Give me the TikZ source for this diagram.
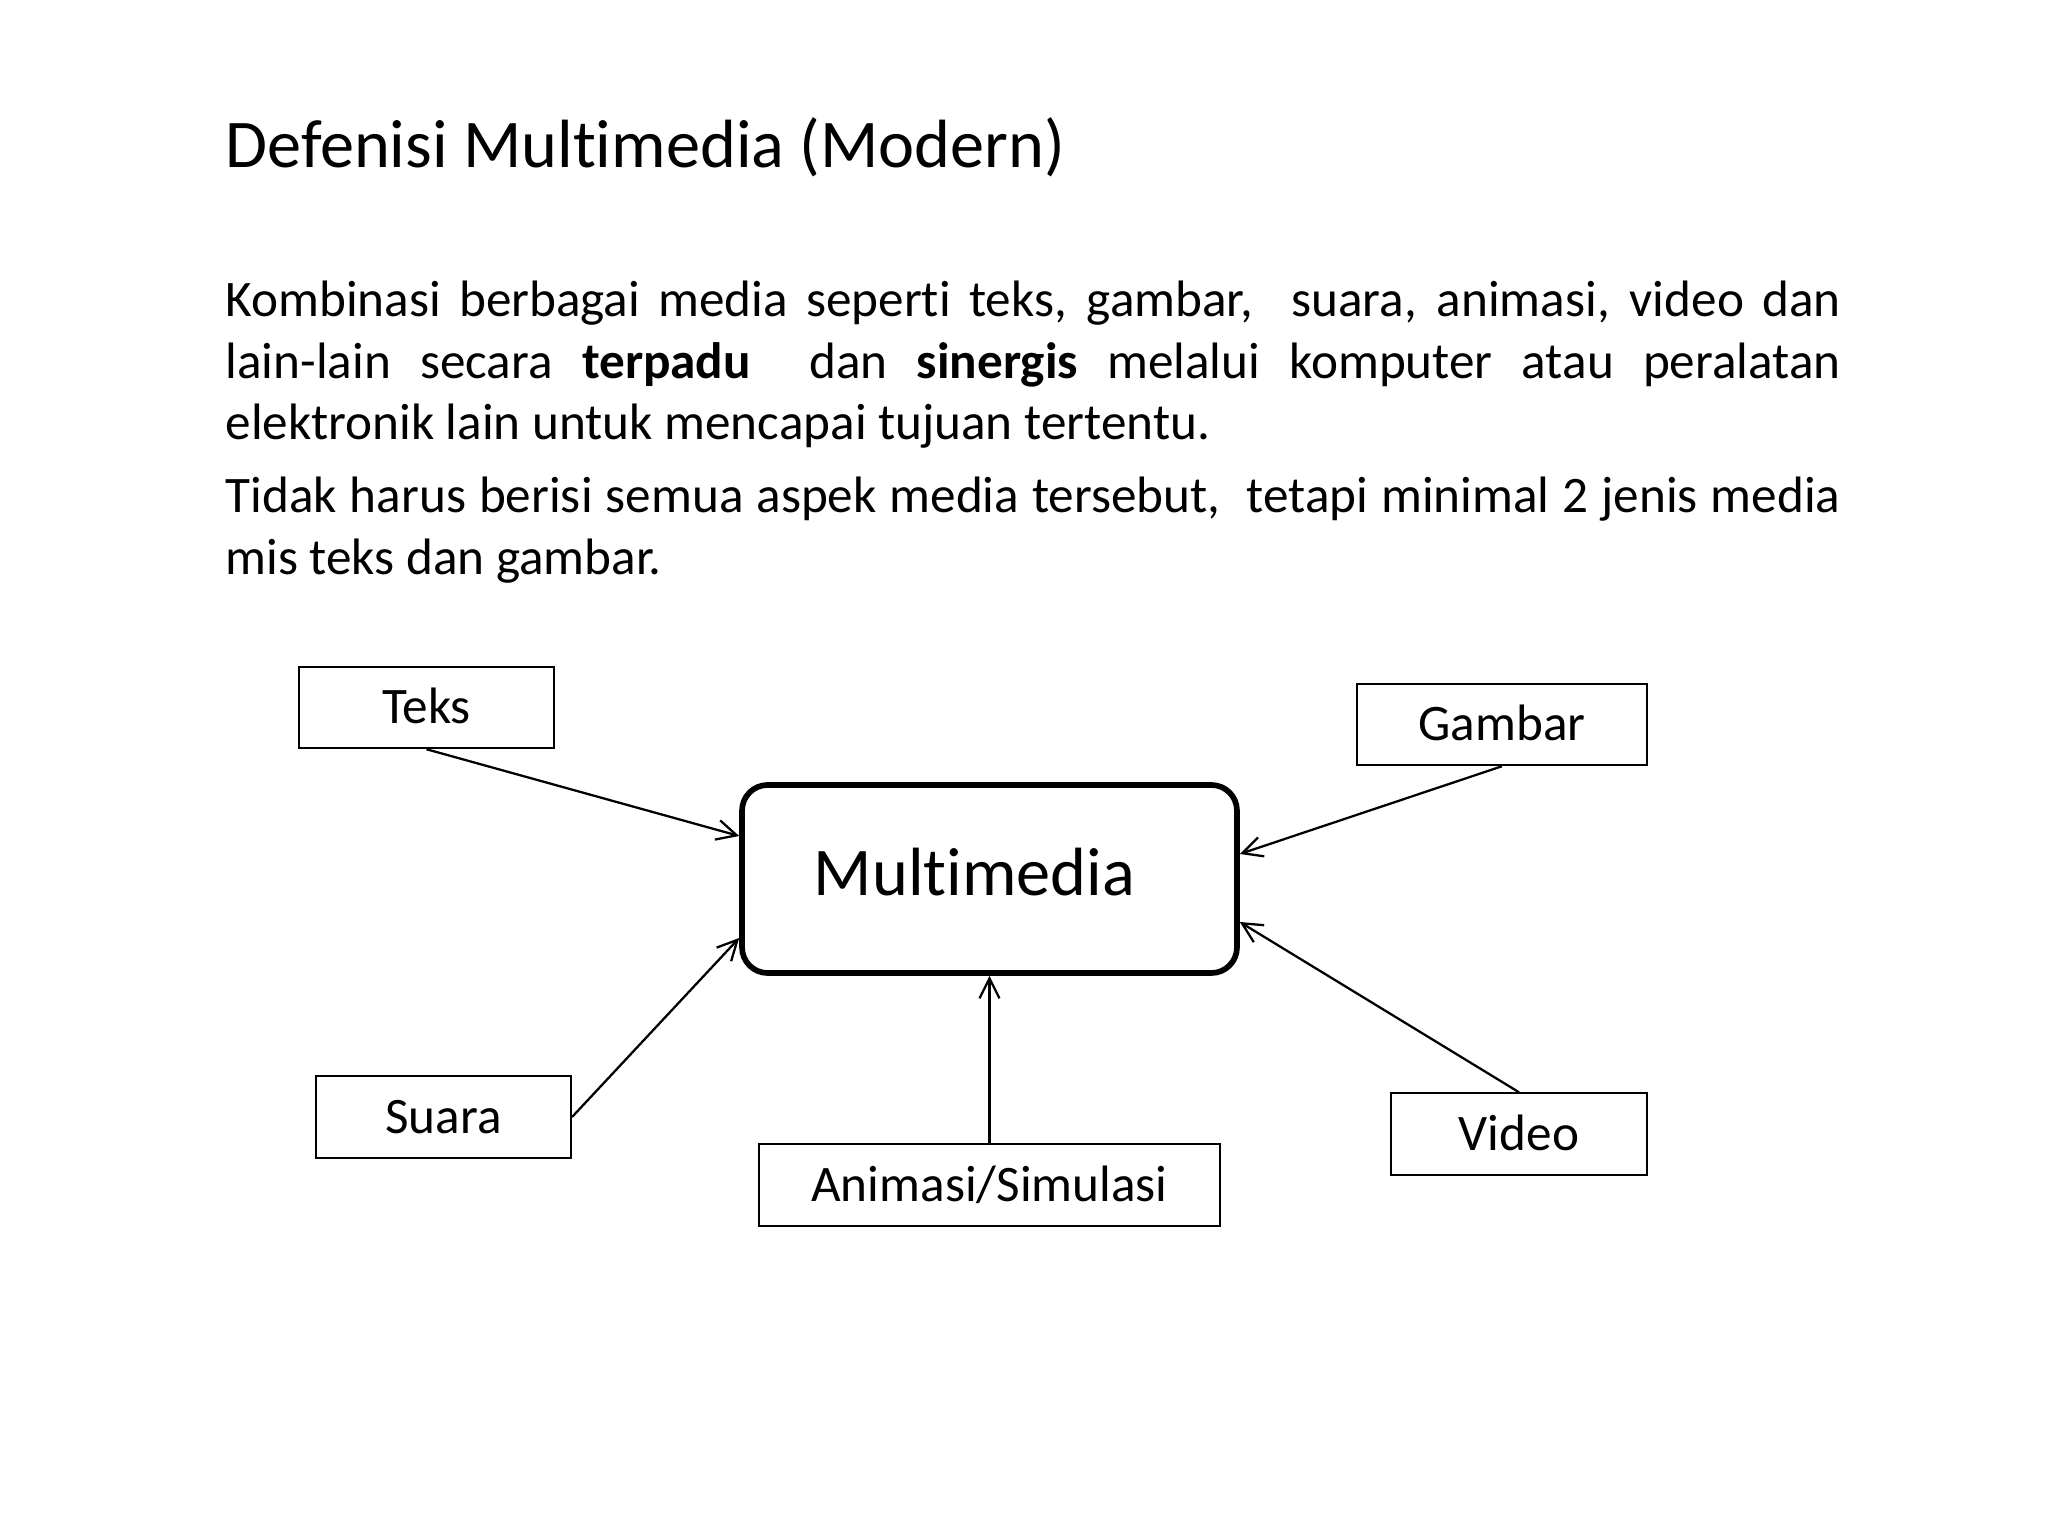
\documentclass[tikz,border=0pt]{standalone}
\usepackage{fontspec}
\setmainfont{Carlito}[Ligatures=NoCommon]
\usetikzlibrary{arrows.meta,calc}
\tikzset{
  smallbox/.style={draw, line width=0.75pt, inner sep=0pt, minimum height=28.6pt,
    font=\fontsize{18}{21.6}\selectfont, text height=11.6pt, text depth=0pt},
  centerbox/.style={draw, line width=2pt, rounded corners=9pt, inner sep=0pt,
    minimum width=174pt, minimum height=66.1pt},
  link/.style={line width=0.8pt, -{Straight Barb[length=7pt,width=7pt,line width=0.8pt]}}
}
\begin{document}
\begin{tikzpicture}[x=0.3515625pt,y=-0.3515625pt]
\path[use as bounding box, fill=white] (0,0) rectangle (2048,1536);
% title
\node[anchor=base west, inner sep=0pt, font=\fontsize{24}{28.8}\selectfont] (title) at (225,168) {Defenisi Multimedia (Modern)};
% paragraph
\node[anchor=base west, inner sep=0pt] (para) at (225,317) {\parbox[t]{567.8pt}{\fontsize{18}{21.6}\selectfont\hyphenpenalty=10000
Kombinasi berbagai media seperti teks, gambar,~ suara, animasi, video dan\linebreak
lain-lain secara \textbf{terpadu}~ dan \textbf{sinergis} melalui komputer atau peralatan\linebreak
elektronik lain untuk mencapai tujuan tertentu.\par\vspace{4.1pt}
Tidak harus berisi semua aspek media tersebut,~ tetapi minimal 2 jenis media\linebreak
mis teks dan gambar.}};
% boxes
\node[centerbox] (mm) at (989.5,879) {};
\node[inner sep=0pt, font=\fontsize{24}{28.8}\selectfont, text height=15.5pt, text depth=0pt] (mmlabel) at (974.5,873) {Multimedia};
\node[smallbox, minimum width=89.65pt] (teks) at (426.5,707.5) {Teks};
\node[smallbox, minimum width=101.95pt] (gambar) at (1502,724.5) {Gambar};
\node[smallbox, minimum width=89.65pt] (suara) at (443.5,1117) {Suara};
\node[smallbox, minimum width=162.07pt] (animasi) at (989.5,1185) {Animasi/Simulasi};
\node[smallbox, minimum width=90pt] (video) at (1519,1134) {Video};
% connectors
\draw[link] (teks.south) -- ($(mm.west)+(0,-43)$);
\draw[link] (gambar.south) -- ($(mm.east)+(0,-25)$);
\draw[link] (suara.east) -- ($(mm.west)+(0,59)$);
\draw[link] (animasi.north) -- (mm.south);
\draw[link] (video.north) -- ($(mm.east)+(0,43)$);
\end{tikzpicture}
\end{document}
